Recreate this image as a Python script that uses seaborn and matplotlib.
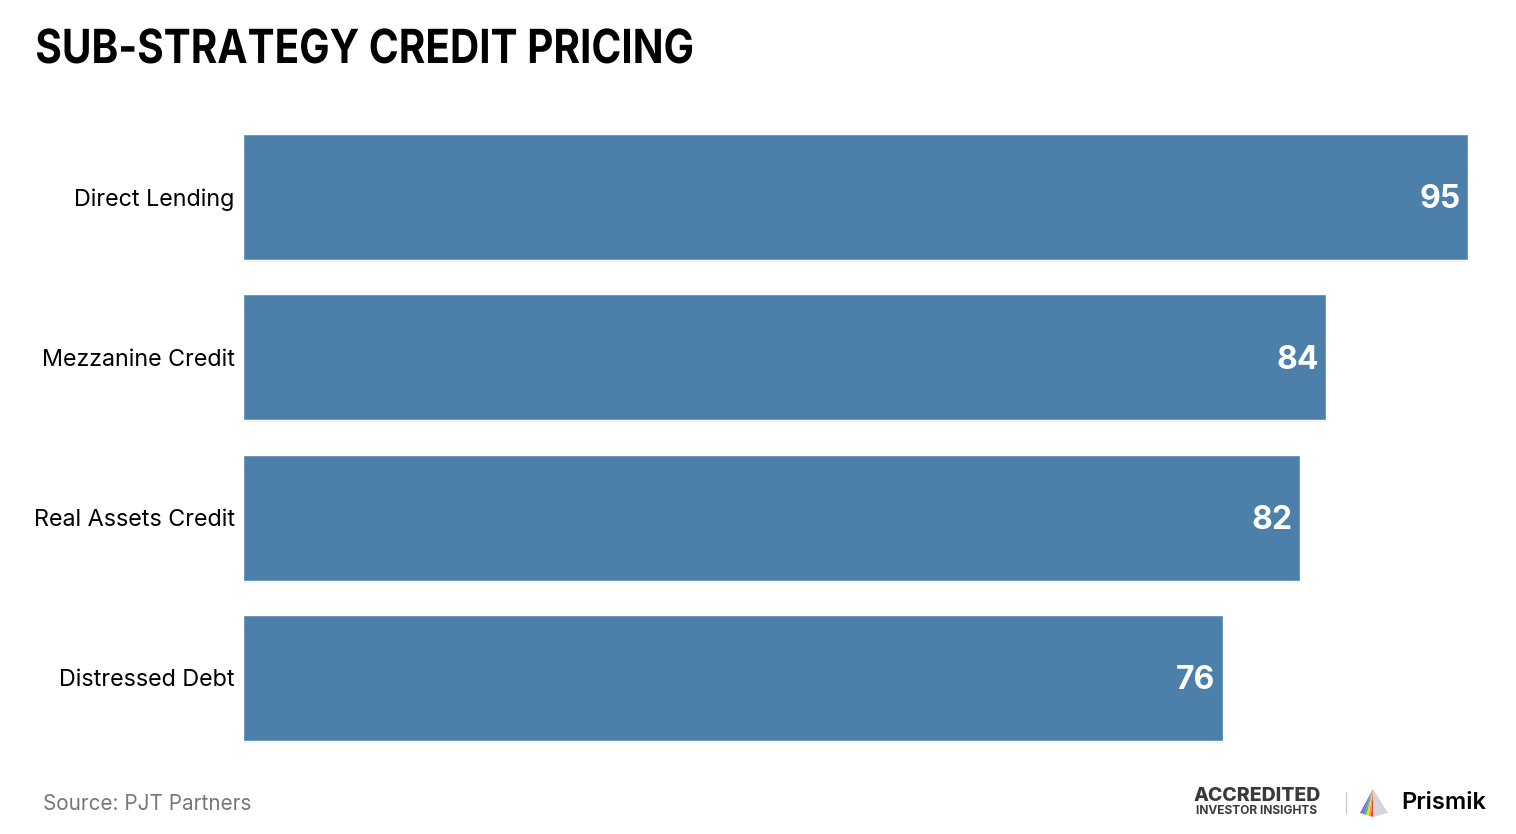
import matplotlib
matplotlib.use("Agg")
import matplotlib.pyplot as plt
import matplotlib.patheffects as pe
from matplotlib.patches import Polygon, PathPatch
from matplotlib.textpath import TextPath
from matplotlib.font_manager import FontProperties
from matplotlib.transforms import Affine2D, IdentityTransform
import pandas as pd
import seaborn as sns

# ------------------------------------------------------------------ data
strategies = ["Direct Lending", "Mezzanine Credit", "Real Assets Credit", "Distressed Debt"]
pricing = [95, 84, 82, 76]

title = "SUB-STRATEGY CREDIT PRICING"
source = "Source: PJT Partners"

bar_color = "#4C7FA9"

df = pd.DataFrame({"strategy": strategies, "pricing": pricing})

W, H = 1516, 834

# ------------------------------------------------------------------ figure
sns.set_theme(style="white")
plt.rcParams["font.family"] = ["Inter", "DejaVu Sans"]

fig = plt.figure(figsize=(W / 100, H / 100), dpi=100)
ax = fig.add_axes([243 / W, 1 - 758 / H, (1468 - 243) / W, (758 - 117) / H])

sns.barplot(data=df, x="pricing", y="strategy", orient="h", color=bar_color,
            saturation=1, width=0.785, ax=ax)

for patch in ax.patches:
    patch.set_path_effects([pe.SimplePatchShadow(offset=(0, -1.5), shadow_rgbFace="black", alpha=0.06),
                            pe.Normal()])
    ax.annotate(f"{patch.get_width():.0f}",
                xy=(patch.get_x() + patch.get_width(), patch.get_y() + patch.get_height() / 2),
                xytext=(-5.5, -2), textcoords="offset points",
                ha="right", va="center", color="white", fontsize=23, fontweight="bold")

ax.set_xlim(0, 95)
ax.set_ylim(3.5, -0.5)
ax.set_xlabel("")
ax.set_ylabel("")
ax.set_xticks([])
ax.tick_params(axis="y", length=0, pad=6, labelsize=16.8, labelcolor="black")
sns.despine(ax=ax, left=True, bottom=True)

# ------------------------------------------------------------------ title (condensed bold)
fp = FontProperties(family="Inter", weight="bold")
tp = TextPath((0, 0), title, size=47, prop=fp)
ext = tp.get_extents()
sx = (692 - 37) / ext.width
tr = Affine2D().translate(-ext.x0, 0).scale(sx, 1).translate(37, H - 63)
fig.add_artist(PathPatch(tr.transform_path(tp), transform=IdentityTransform(),
                         facecolor="black", edgecolor="none"))

fig.text(43 / W, 1 - 804 / H, source, fontsize=14.9, color="#777777", va="center", ha="left")

# ------------------------------------------------------------------ logo block
fig.text(1257 / W, 1 - 796 / H, "ACCREDITED", fontsize=14, fontweight="heavy",
         color="#3a3a3a", ha="center", va="center")
fig.text(1257 / W, 1 - 811 / H, "INVESTOR INSIGHTS", fontsize=8.6, fontweight="bold",
         color="#3a3a3a", ha="center", va="center")
fig.add_artist(plt.Line2D([1346 / W, 1346 / W], [1 - 792 / H, 1 - 813 / H],
                          transform=fig.transFigure, color="#cccccc", lw=1))
fig.text(1401 / W, 1 - 803 / H, "Prismik", fontsize=17, fontweight="semibold",
         color="black", ha="left", va="center")

apex = (1373, 789)
base_l = (1360, 813)
base_r = (1388, 813)
base_m = (1373, 817)
rainbow = ["#e8453c", "#f39c2b", "#f5d33a", "#5cc25a", "#3a8ee6", "#8e5ad8"]
n = len(rainbow)
for i, c in enumerate(rainbow):
    t0, t1 = i / n, (i + 1) / n
    p0 = (base_m[0] + (base_l[0] - base_m[0]) * t0, base_m[1] + (base_l[1] - base_m[1]) * t0)
    p1 = (base_m[0] + (base_l[0] - base_m[0]) * t1, base_m[1] + (base_l[1] - base_m[1]) * t1)
    fig.add_artist(Polygon([(x / W, 1 - y / H) for x, y in [apex, p0, p1]], closed=True,
                           transform=fig.transFigure, facecolor=c, edgecolor="none"))
fig.add_artist(Polygon([(x / W, 1 - y / H) for x, y in [apex, base_m, base_r]], closed=True,
                       transform=fig.transFigure, facecolor="#d5d5de", edgecolor="none"))

fig.savefig("out.png", dpi=100, facecolor="white")
